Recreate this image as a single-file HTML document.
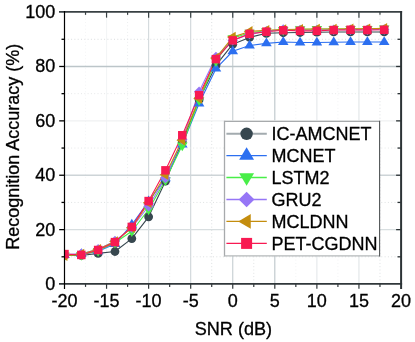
<!DOCTYPE html><html><head><meta charset="utf-8"><title>Recognition Accuracy vs SNR</title>
<style>html,body{margin:0;padding:0;background:#fff;}body{width:415px;height:342px;overflow:hidden;}svg{display:block;}text{font-family:"Liberation Sans",Arial,sans-serif;fill:#000;stroke:#000;stroke-width:0.3px;}</style></head><body>
<svg width="415" height="342" viewBox="0 0 415 342">
<defs><clipPath id="pc"><rect x="64.5" y="12.1" width="336.5" height="271.9"/></clipPath></defs>
<g><line x1="106.56" y1="12.1" x2="106.56" y2="284" stroke="#f3f5f6" stroke-width="1.1"/><line x1="148.62" y1="12.1" x2="148.62" y2="284" stroke="#d3d9dc" stroke-width="1.1"/><line x1="190.69" y1="12.1" x2="190.69" y2="284" stroke="#cfd6d9" stroke-width="1.1"/><line x1="232.75" y1="12.1" x2="232.75" y2="284" stroke="#c5cdd1" stroke-width="1.1"/><line x1="274.81" y1="12.1" x2="274.81" y2="284" stroke="#bcc5c9" stroke-width="1.1"/><line x1="316.88" y1="12.1" x2="316.88" y2="284" stroke="#e4e8ea" stroke-width="1.1"/><line x1="358.94" y1="12.1" x2="358.94" y2="284" stroke="#e0e5e7" stroke-width="1.1"/><line x1="85.53" y1="12.1" x2="85.53" y2="284" stroke="#f4f5f6" stroke-width="1" stroke-dasharray="1 2.3"/><line x1="127.59" y1="12.1" x2="127.59" y2="284" stroke="#eceeef" stroke-width="1" stroke-dasharray="1 2.3"/><line x1="169.66" y1="12.1" x2="169.66" y2="284" stroke="#e4e6e7" stroke-width="1" stroke-dasharray="1 2.3"/><line x1="211.72" y1="12.1" x2="211.72" y2="284" stroke="#dcdfe1" stroke-width="1" stroke-dasharray="1 2.3"/><line x1="253.78" y1="12.1" x2="253.78" y2="284" stroke="#e0e3e4" stroke-width="1" stroke-dasharray="1 2.3"/><line x1="295.84" y1="12.1" x2="295.84" y2="284" stroke="#f2f3f4" stroke-width="1" stroke-dasharray="1 2.3"/><line x1="337.91" y1="12.1" x2="337.91" y2="284" stroke="#f2f3f4" stroke-width="1" stroke-dasharray="1 2.3"/><line x1="379.97" y1="12.1" x2="379.97" y2="284" stroke="#dde0e2" stroke-width="1" stroke-dasharray="1 2.3"/><line x1="64.5" y1="66.48" x2="401" y2="66.48" stroke="#bcc5c9" stroke-width="1.4"/><line x1="64.5" y1="120.86" x2="401" y2="120.86" stroke="#eff1f2" stroke-width="1.4"/><line x1="64.5" y1="175.24" x2="401" y2="175.24" stroke="#cdd4d7" stroke-width="1.4"/><line x1="64.5" y1="229.62" x2="401" y2="229.62" stroke="#d8dee0" stroke-width="1.4"/><line x1="64.5" y1="39.29" x2="401" y2="39.29" stroke="#dadddf" stroke-width="1" stroke-dasharray="1 2.3"/><line x1="64.5" y1="93.67" x2="401" y2="93.67" stroke="#e6e8e9" stroke-width="1" stroke-dasharray="1 2.3"/><line x1="64.5" y1="148.05" x2="401" y2="148.05" stroke="#e6e8e9" stroke-width="1" stroke-dasharray="1 2.3"/><line x1="64.5" y1="202.43" x2="401" y2="202.43" stroke="#dee1e2" stroke-width="1" stroke-dasharray="1 2.3"/><line x1="64.5" y1="256.81" x2="401" y2="256.81" stroke="#dde0e1" stroke-width="1" stroke-dasharray="1 2.3"/></g>
<g clip-path="url(#pc)">
<polyline points="64.5,255.18 81.33,255.45 98.15,253.41 114.97,251.51 131.8,238.59 148.62,216.84 165.45,181.22 182.28,141.8 199.1,99.65 215.93,65.39 232.75,44.18 249.57,37.39 266.4,33.31 283.23,32.76 300.05,32.49 316.88,32.22 333.7,31.95 350.52,31.95 367.35,31.95 384.18,31.95" fill="none" stroke="#37474f" stroke-width="1.1" stroke-linejoin="round"/>
<polyline points="64.5,255.18 81.33,254.09 98.15,251.37 114.97,244.03 131.8,224.73 148.62,201.34 165.45,178.23 182.28,144.52 199.1,103.46 215.93,68.66 232.75,51.25 249.57,45.54 266.4,43.37 283.23,42.01 300.05,42.55 316.88,42.55 333.7,42.28 350.52,42.01 367.35,42.01 384.18,42.01" fill="none" stroke="#2c6ff0" stroke-width="1.1" stroke-linejoin="round"/>
<polyline points="64.5,255.45 81.33,254.91 98.15,250.83 114.97,242.67 131.8,231.25 148.62,209.5 165.45,180.13 182.28,145.33 199.1,100.2 215.93,61.04 232.75,38.2 249.57,32.76 266.4,30.86 283.23,30.05 300.05,29.23 316.88,28.96 333.7,28.96 350.52,28.96 367.35,28.96 384.18,28.41" fill="none" stroke="#48ee48" stroke-width="1.1" stroke-linejoin="round"/>
<polyline points="64.5,254.63 81.33,253.82 98.15,249.2 114.97,240.9 131.8,227.72 148.62,206.24 165.45,177.96 182.28,139.62 199.1,91.77 215.93,56.96 232.75,40.38 249.57,34.12 266.4,31.13 283.23,29.5 300.05,30.05 316.88,30.05 333.7,29.77 350.52,29.77 367.35,29.77 384.18,29.5" fill="none" stroke="#9676f6" stroke-width="1.1" stroke-linejoin="round"/>
<polyline points="64.5,255.72 81.33,254.09 98.15,249.2 114.97,241.58 131.8,227.72 148.62,202.7 165.45,174.7 182.28,140.16 199.1,98.56 215.93,58.05 232.75,37.11 249.57,31.4 266.4,30.32 283.23,29.5 300.05,29.23 316.88,28.96 333.7,28.96 350.52,28.69 367.35,28.69 384.18,28.41" fill="none" stroke="#c48d0e" stroke-width="1.1" stroke-linejoin="round"/>
<polyline points="64.5,254.09 81.33,254.91 98.15,250.01 114.97,242.13 131.8,226.9 148.62,201.07 165.45,170.35 182.28,135.27 199.1,95.17 215.93,59.14 232.75,40.38 249.57,33.85 266.4,31.68 283.23,30.32 300.05,30.86 316.88,30.86 333.7,30.05 350.52,29.77 367.35,30.05 384.18,29.77" fill="none" stroke="#f81a52" stroke-width="1.1" stroke-linejoin="round"/>
<circle cx="64.5" cy="255.18" r="4.4" fill="#37474f"/><circle cx="81.33" cy="255.45" r="4.4" fill="#37474f"/><circle cx="98.15" cy="253.41" r="4.4" fill="#37474f"/><circle cx="114.97" cy="251.51" r="4.4" fill="#37474f"/><circle cx="131.8" cy="238.59" r="4.4" fill="#37474f"/><circle cx="148.62" cy="216.84" r="4.4" fill="#37474f"/><circle cx="165.45" cy="181.22" r="4.4" fill="#37474f"/><circle cx="182.28" cy="141.8" r="4.4" fill="#37474f"/><circle cx="199.1" cy="99.65" r="4.4" fill="#37474f"/><circle cx="215.93" cy="65.39" r="4.4" fill="#37474f"/><circle cx="232.75" cy="44.18" r="4.4" fill="#37474f"/><circle cx="249.57" cy="37.39" r="4.4" fill="#37474f"/><circle cx="266.4" cy="33.31" r="4.4" fill="#37474f"/><circle cx="283.23" cy="32.76" r="4.4" fill="#37474f"/><circle cx="300.05" cy="32.49" r="4.4" fill="#37474f"/><circle cx="316.88" cy="32.22" r="4.4" fill="#37474f"/><circle cx="333.7" cy="31.95" r="4.4" fill="#37474f"/><circle cx="350.52" cy="31.95" r="4.4" fill="#37474f"/><circle cx="367.35" cy="31.95" r="4.4" fill="#37474f"/><circle cx="384.18" cy="31.95" r="4.4" fill="#37474f"/>
<polygon points="64.5,249.31 69.8,258.11 59.2,258.11" fill="#2c6ff0"/><polygon points="81.33,248.22 86.62,257.02 76.03,257.02" fill="#2c6ff0"/><polygon points="98.15,245.51 103.45,254.31 92.85,254.31" fill="#2c6ff0"/><polygon points="114.97,238.16 120.27,246.96 109.67,246.96" fill="#2c6ff0"/><polygon points="131.8,218.86 137.1,227.66 126.5,227.66" fill="#2c6ff0"/><polygon points="148.62,195.48 153.93,204.28 143.32,204.28" fill="#2c6ff0"/><polygon points="165.45,172.36 170.75,181.16 160.15,181.16" fill="#2c6ff0"/><polygon points="182.28,138.65 187.58,147.45 176.97,147.45" fill="#2c6ff0"/><polygon points="199.1,97.59 204.4,106.39 193.8,106.39" fill="#2c6ff0"/><polygon points="215.93,62.79 221.23,71.59 210.62,71.59" fill="#2c6ff0"/><polygon points="232.75,45.39 238.05,54.19 227.45,54.19" fill="#2c6ff0"/><polygon points="249.57,39.68 254.88,48.48 244.27,48.48" fill="#2c6ff0"/><polygon points="266.4,37.5 271.7,46.3 261.1,46.3" fill="#2c6ff0"/><polygon points="283.23,36.14 288.53,44.94 277.93,44.94" fill="#2c6ff0"/><polygon points="300.05,36.69 305.35,45.49 294.75,45.49" fill="#2c6ff0"/><polygon points="316.88,36.69 322.18,45.49 311.57,45.49" fill="#2c6ff0"/><polygon points="333.7,36.41 339,45.21 328.4,45.21" fill="#2c6ff0"/><polygon points="350.52,36.14 355.82,44.94 345.22,44.94" fill="#2c6ff0"/><polygon points="367.35,36.14 372.65,44.94 362.05,44.94" fill="#2c6ff0"/><polygon points="384.18,36.14 389.48,44.94 378.88,44.94" fill="#2c6ff0"/>
<polygon points="64.5,261.32 69.8,252.52 59.2,252.52" fill="#48ee48"/><polygon points="81.33,260.77 86.62,251.97 76.03,251.97" fill="#48ee48"/><polygon points="98.15,256.69 103.45,247.89 92.85,247.89" fill="#48ee48"/><polygon points="114.97,248.54 120.27,239.74 109.67,239.74" fill="#48ee48"/><polygon points="131.8,237.12 137.1,228.32 126.5,228.32" fill="#48ee48"/><polygon points="148.62,215.37 153.93,206.57 143.32,206.57" fill="#48ee48"/><polygon points="165.45,186 170.75,177.2 160.15,177.2" fill="#48ee48"/><polygon points="182.28,151.2 187.58,142.4 176.97,142.4" fill="#48ee48"/><polygon points="199.1,106.06 204.4,97.26 193.8,97.26" fill="#48ee48"/><polygon points="215.93,66.91 221.23,58.11 210.62,58.11" fill="#48ee48"/><polygon points="232.75,44.07 238.05,35.27 227.45,35.27" fill="#48ee48"/><polygon points="249.57,38.63 254.88,29.83 244.27,29.83" fill="#48ee48"/><polygon points="266.4,36.73 271.7,27.93 261.1,27.93" fill="#48ee48"/><polygon points="283.23,35.91 288.53,27.11 277.93,27.11" fill="#48ee48"/><polygon points="300.05,35.1 305.35,26.3 294.75,26.3" fill="#48ee48"/><polygon points="316.88,34.82 322.18,26.02 311.57,26.02" fill="#48ee48"/><polygon points="333.7,34.82 339,26.02 328.4,26.02" fill="#48ee48"/><polygon points="350.52,34.82 355.82,26.02 345.22,26.02" fill="#48ee48"/><polygon points="367.35,34.82 372.65,26.02 362.05,26.02" fill="#48ee48"/><polygon points="384.18,34.28 389.48,25.48 378.88,25.48" fill="#48ee48"/>
<polygon points="64.5,249.43 69.7,254.63 64.5,259.83 59.3,254.63" fill="#9676f6"/><polygon points="81.33,248.62 86.53,253.82 81.33,259.02 76.12,253.82" fill="#9676f6"/><polygon points="98.15,244 103.35,249.2 98.15,254.4 92.95,249.2" fill="#9676f6"/><polygon points="114.97,235.7 120.17,240.9 114.97,246.1 109.77,240.9" fill="#9676f6"/><polygon points="131.8,222.52 137,227.72 131.8,232.92 126.6,227.72" fill="#9676f6"/><polygon points="148.62,201.04 153.82,206.24 148.62,211.44 143.43,206.24" fill="#9676f6"/><polygon points="165.45,172.76 170.65,177.96 165.45,183.16 160.25,177.96" fill="#9676f6"/><polygon points="182.28,134.42 187.47,139.62 182.28,144.82 177.08,139.62" fill="#9676f6"/><polygon points="199.1,86.57 204.3,91.77 199.1,96.97 193.9,91.77" fill="#9676f6"/><polygon points="215.93,51.76 221.12,56.96 215.93,62.16 210.73,56.96" fill="#9676f6"/><polygon points="232.75,35.18 237.95,40.38 232.75,45.58 227.55,40.38" fill="#9676f6"/><polygon points="249.57,28.92 254.77,34.12 249.57,39.32 244.38,34.12" fill="#9676f6"/><polygon points="266.4,25.93 271.6,31.13 266.4,36.33 261.2,31.13" fill="#9676f6"/><polygon points="283.23,24.3 288.43,29.5 283.23,34.7 278.03,29.5" fill="#9676f6"/><polygon points="300.05,24.85 305.25,30.05 300.05,35.25 294.85,30.05" fill="#9676f6"/><polygon points="316.88,24.85 322.07,30.05 316.88,35.25 311.68,30.05" fill="#9676f6"/><polygon points="333.7,24.57 338.9,29.77 333.7,34.97 328.5,29.77" fill="#9676f6"/><polygon points="350.52,24.57 355.72,29.77 350.52,34.97 345.32,29.77" fill="#9676f6"/><polygon points="367.35,24.57 372.55,29.77 367.35,34.97 362.15,29.77" fill="#9676f6"/><polygon points="384.18,24.3 389.38,29.5 384.18,34.7 378.98,29.5" fill="#9676f6"/>
<polygon points="58.63,255.72 67.43,250.42 67.43,261.02" fill="#c48d0e"/><polygon points="75.46,254.09 84.26,248.79 84.26,259.39" fill="#c48d0e"/><polygon points="92.28,249.2 101.08,243.9 101.08,254.5" fill="#c48d0e"/><polygon points="109.11,241.58 117.91,236.28 117.91,246.88" fill="#c48d0e"/><polygon points="125.93,227.72 134.73,222.42 134.73,233.02" fill="#c48d0e"/><polygon points="142.76,202.7 151.56,197.4 151.56,208" fill="#c48d0e"/><polygon points="159.58,174.7 168.38,169.4 168.38,180" fill="#c48d0e"/><polygon points="176.41,140.16 185.21,134.86 185.21,145.46" fill="#c48d0e"/><polygon points="193.23,98.56 202.03,93.26 202.03,103.86" fill="#c48d0e"/><polygon points="210.06,58.05 218.86,52.75 218.86,63.35" fill="#c48d0e"/><polygon points="226.88,37.11 235.68,31.81 235.68,42.41" fill="#c48d0e"/><polygon points="243.71,31.4 252.51,26.1 252.51,36.7" fill="#c48d0e"/><polygon points="260.53,30.32 269.33,25.02 269.33,35.62" fill="#c48d0e"/><polygon points="277.36,29.5 286.16,24.2 286.16,34.8" fill="#c48d0e"/><polygon points="294.18,29.23 302.98,23.93 302.98,34.53" fill="#c48d0e"/><polygon points="311.01,28.96 319.81,23.66 319.81,34.26" fill="#c48d0e"/><polygon points="327.83,28.96 336.63,23.66 336.63,34.26" fill="#c48d0e"/><polygon points="344.66,28.69 353.46,23.39 353.46,33.99" fill="#c48d0e"/><polygon points="361.48,28.69 370.28,23.39 370.28,33.99" fill="#c48d0e"/><polygon points="378.31,28.41 387.11,23.11 387.11,33.71" fill="#c48d0e"/>
<rect x="60.25" y="249.84" width="8.5" height="8.5" fill="#f81a52"/><rect x="77.08" y="250.66" width="8.5" height="8.5" fill="#f81a52"/><rect x="93.9" y="245.76" width="8.5" height="8.5" fill="#f81a52"/><rect x="110.72" y="237.88" width="8.5" height="8.5" fill="#f81a52"/><rect x="127.55" y="222.65" width="8.5" height="8.5" fill="#f81a52"/><rect x="144.38" y="196.82" width="8.5" height="8.5" fill="#f81a52"/><rect x="161.2" y="166.1" width="8.5" height="8.5" fill="#f81a52"/><rect x="178.03" y="131.02" width="8.5" height="8.5" fill="#f81a52"/><rect x="194.85" y="90.92" width="8.5" height="8.5" fill="#f81a52"/><rect x="211.68" y="54.89" width="8.5" height="8.5" fill="#f81a52"/><rect x="228.5" y="36.13" width="8.5" height="8.5" fill="#f81a52"/><rect x="245.32" y="29.6" width="8.5" height="8.5" fill="#f81a52"/><rect x="262.15" y="27.43" width="8.5" height="8.5" fill="#f81a52"/><rect x="278.98" y="26.07" width="8.5" height="8.5" fill="#f81a52"/><rect x="295.8" y="26.61" width="8.5" height="8.5" fill="#f81a52"/><rect x="312.62" y="26.61" width="8.5" height="8.5" fill="#f81a52"/><rect x="329.45" y="25.8" width="8.5" height="8.5" fill="#f81a52"/><rect x="346.27" y="25.52" width="8.5" height="8.5" fill="#f81a52"/><rect x="363.1" y="25.8" width="8.5" height="8.5" fill="#f81a52"/><rect x="379.93" y="25.52" width="8.5" height="8.5" fill="#f81a52"/>
</g>
<rect x="224.5" y="121.4" width="155.1" height="134.5" fill="#fff"/>
<line x1="224.5" y1="120.75" x2="224.5" y2="256.55" stroke="#a7aaac" stroke-width="1.3"/>
<line x1="224.5" y1="121.4" x2="379.6" y2="121.4" stroke="#a7aaac" stroke-width="1.3"/>
<line x1="224.5" y1="255.9" x2="379.6" y2="255.9" stroke="#b4b8ba" stroke-width="1.3"/>
<line x1="379.6" y1="120.75" x2="379.6" y2="256.55" stroke="#505456" stroke-width="1.1"/>
<line x1="226.4" y1="133.8" x2="266.8" y2="133.8" stroke="#a3abaf" stroke-width="2"/>
<circle cx="246.6" cy="133.8" r="6.2" fill="#37474f"/>
<text x="271.4" y="139.9" font-size="18">IC-AMCNET</text>
<line x1="226.4" y1="155.6" x2="266.8" y2="155.6" stroke="#2c6ff0" stroke-width="1.3"/>
<polygon points="246.6,147.27 254.05,159.77 239.15,159.77" fill="#2c6ff0"/>
<text x="271.4" y="161.7" font-size="18">MCNET</text>
<line x1="226.4" y1="177.5" x2="266.8" y2="177.5" stroke="#48ee48" stroke-width="1.3"/>
<polygon points="246.6,185.83 254.05,173.33 239.15,173.33" fill="#48ee48"/>
<text x="271.4" y="183.6" font-size="18">LSTM2</text>
<line x1="226.4" y1="199.5" x2="266.8" y2="199.5" stroke="#9676f6" stroke-width="1.3"/>
<polygon points="246.6,191.65 254.45,199.5 246.6,207.35 238.75,199.5" fill="#9676f6"/>
<text x="271.4" y="205.6" font-size="18">GRU2</text>
<line x1="226.4" y1="221.4" x2="266.8" y2="221.4" stroke="#c48d0e" stroke-width="1.3"/>
<polygon points="238.27,221.4 250.77,213.95 250.77,228.85" fill="#c48d0e"/>
<text x="271.4" y="227.5" font-size="18">MCLDNN</text>
<line x1="226.4" y1="243.4" x2="266.8" y2="243.4" stroke="#f81a52" stroke-width="1.3"/>
<rect x="241.1" y="237.9" width="11" height="11" fill="#f81a52"/>
<text x="271.4" y="249.5" font-size="18">PET-CGDNN</text>
<g><line x1="59" y1="283.9" x2="402.1" y2="283.9" stroke="#30373a" stroke-width="1.9"/><line x1="59" y1="11.85" x2="402.1" y2="11.85" stroke="#384043" stroke-width="1.9"/><line x1="401.1" y1="10.9" x2="401.1" y2="289" stroke="#2c3336" stroke-width="2"/><line x1="64.5" y1="10.9" x2="64.5" y2="289" stroke="#000" stroke-width="1.2"/><line x1="85.53" y1="283.9" x2="85.53" y2="286.9" stroke="#30373a" stroke-width="1.2"/><line x1="85.53" y1="11.85" x2="85.53" y2="14.85" stroke="#384043" stroke-width="1.2"/><line x1="106.56" y1="283.9" x2="106.56" y2="288.8" stroke="#30373a" stroke-width="1.2"/><line x1="106.56" y1="11.85" x2="106.56" y2="17.65" stroke="#384043" stroke-width="1.2"/><line x1="127.59" y1="283.9" x2="127.59" y2="286.9" stroke="#30373a" stroke-width="1.2"/><line x1="127.59" y1="11.85" x2="127.59" y2="14.85" stroke="#384043" stroke-width="1.2"/><line x1="148.62" y1="283.9" x2="148.62" y2="288.8" stroke="#30373a" stroke-width="1.2"/><line x1="148.62" y1="11.85" x2="148.62" y2="17.65" stroke="#384043" stroke-width="1.2"/><line x1="169.66" y1="283.9" x2="169.66" y2="286.9" stroke="#30373a" stroke-width="1.2"/><line x1="169.66" y1="11.85" x2="169.66" y2="14.85" stroke="#384043" stroke-width="1.2"/><line x1="190.69" y1="283.9" x2="190.69" y2="288.8" stroke="#30373a" stroke-width="1.2"/><line x1="190.69" y1="11.85" x2="190.69" y2="17.65" stroke="#384043" stroke-width="1.2"/><line x1="211.72" y1="283.9" x2="211.72" y2="286.9" stroke="#30373a" stroke-width="1.2"/><line x1="211.72" y1="11.85" x2="211.72" y2="14.85" stroke="#384043" stroke-width="1.2"/><line x1="232.75" y1="283.9" x2="232.75" y2="288.8" stroke="#30373a" stroke-width="1.2"/><line x1="232.75" y1="11.85" x2="232.75" y2="17.65" stroke="#384043" stroke-width="1.2"/><line x1="253.78" y1="283.9" x2="253.78" y2="286.9" stroke="#30373a" stroke-width="1.2"/><line x1="253.78" y1="11.85" x2="253.78" y2="14.85" stroke="#384043" stroke-width="1.2"/><line x1="274.81" y1="283.9" x2="274.81" y2="288.8" stroke="#30373a" stroke-width="1.2"/><line x1="274.81" y1="11.85" x2="274.81" y2="17.65" stroke="#384043" stroke-width="1.2"/><line x1="295.84" y1="283.9" x2="295.84" y2="286.9" stroke="#30373a" stroke-width="1.2"/><line x1="295.84" y1="11.85" x2="295.84" y2="14.85" stroke="#384043" stroke-width="1.2"/><line x1="316.88" y1="283.9" x2="316.88" y2="288.8" stroke="#30373a" stroke-width="1.2"/><line x1="316.88" y1="11.85" x2="316.88" y2="17.65" stroke="#384043" stroke-width="1.2"/><line x1="337.91" y1="283.9" x2="337.91" y2="286.9" stroke="#30373a" stroke-width="1.2"/><line x1="337.91" y1="11.85" x2="337.91" y2="14.85" stroke="#384043" stroke-width="1.2"/><line x1="358.94" y1="283.9" x2="358.94" y2="288.8" stroke="#30373a" stroke-width="1.2"/><line x1="358.94" y1="11.85" x2="358.94" y2="17.65" stroke="#384043" stroke-width="1.2"/><line x1="379.97" y1="283.9" x2="379.97" y2="286.9" stroke="#30373a" stroke-width="1.2"/><line x1="379.97" y1="11.85" x2="379.97" y2="14.85" stroke="#384043" stroke-width="1.2"/><line x1="61.5" y1="256.81" x2="64.5" y2="256.81" stroke="#000" stroke-width="1.3"/><line x1="397.5" y1="256.81" x2="401.1" y2="256.81" stroke="#2c3336" stroke-width="1.3"/><line x1="59.2" y1="229.62" x2="64.5" y2="229.62" stroke="#000" stroke-width="1.3"/><line x1="396.1" y1="229.62" x2="401.1" y2="229.62" stroke="#2c3336" stroke-width="1.3"/><line x1="61.5" y1="202.43" x2="64.5" y2="202.43" stroke="#000" stroke-width="1.3"/><line x1="397.5" y1="202.43" x2="401.1" y2="202.43" stroke="#2c3336" stroke-width="1.3"/><line x1="59.2" y1="175.24" x2="64.5" y2="175.24" stroke="#000" stroke-width="1.3"/><line x1="396.1" y1="175.24" x2="401.1" y2="175.24" stroke="#2c3336" stroke-width="1.3"/><line x1="61.5" y1="148.05" x2="64.5" y2="148.05" stroke="#000" stroke-width="1.3"/><line x1="397.5" y1="148.05" x2="401.1" y2="148.05" stroke="#2c3336" stroke-width="1.3"/><line x1="59.2" y1="120.86" x2="64.5" y2="120.86" stroke="#000" stroke-width="1.3"/><line x1="396.1" y1="120.86" x2="401.1" y2="120.86" stroke="#2c3336" stroke-width="1.3"/><line x1="61.5" y1="93.67" x2="64.5" y2="93.67" stroke="#000" stroke-width="1.3"/><line x1="397.5" y1="93.67" x2="401.1" y2="93.67" stroke="#2c3336" stroke-width="1.3"/><line x1="59.2" y1="66.48" x2="64.5" y2="66.48" stroke="#000" stroke-width="1.3"/><line x1="396.1" y1="66.48" x2="401.1" y2="66.48" stroke="#2c3336" stroke-width="1.3"/><line x1="61.5" y1="39.29" x2="64.5" y2="39.29" stroke="#000" stroke-width="1.3"/><line x1="397.5" y1="39.29" x2="401.1" y2="39.29" stroke="#2c3336" stroke-width="1.3"/></g>
<text x="55.2" y="290" font-size="18" text-anchor="end">0</text><text x="55.2" y="235.62" font-size="18" text-anchor="end">20</text><text x="55.2" y="181.24" font-size="18" text-anchor="end">40</text><text x="55.2" y="126.86" font-size="18" text-anchor="end">60</text><text x="55.2" y="72.48" font-size="18" text-anchor="end">80</text><text x="55.2" y="17.9" font-size="18" text-anchor="end">100</text><text x="64.5" y="306.6" font-size="18" text-anchor="middle">-20</text><text x="106.56" y="306.6" font-size="18" text-anchor="middle">-15</text><text x="148.62" y="306.6" font-size="18" text-anchor="middle">-10</text><text x="190.69" y="306.6" font-size="18" text-anchor="middle">-5</text><text x="232.75" y="306.6" font-size="18" text-anchor="middle">0</text><text x="274.81" y="306.6" font-size="18" text-anchor="middle">5</text><text x="316.88" y="306.6" font-size="18" text-anchor="middle">10</text><text x="358.94" y="306.6" font-size="18" text-anchor="middle">15</text><text x="401" y="306.6" font-size="18" text-anchor="middle">20</text>
<text x="233.4" y="335.4" font-size="18.1" text-anchor="middle">SNR (dB)</text>
<text transform="translate(18.6 146.8) rotate(-90)" x="0" y="0" font-size="18" text-anchor="middle">Recognition Accuracy (%)</text>
</svg></body></html>
